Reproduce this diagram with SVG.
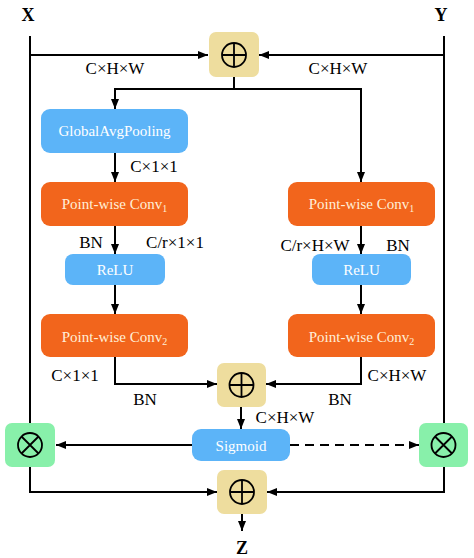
<svg xmlns="http://www.w3.org/2000/svg" width="474" height="558" viewBox="0 0 474 558">
<defs>
<marker id="ah" markerWidth="10" markerHeight="8" refX="10" refY="4" orient="auto" markerUnits="userSpaceOnUse">
<path d="M0,0 L10,4 L0,8 Z" fill="#000"/>
</marker>
<style>
.ln{fill:none;stroke:#000;stroke-width:2}
.add{fill:#EEDD9E}
.mul{fill:#88F0AA}
.blue{fill:#5CB4F8}
.org{fill:#F2651C}
.sym{fill:none;stroke:#000;stroke-width:1.8}
.nt{font-family:"Liberation Serif","Times New Roman",serif;font-size:15px;fill:#fff;text-anchor:middle}
.ot{font-family:"Liberation Serif","Times New Roman",serif;font-size:15px;fill:#FFEFD8;text-anchor:middle}
.lb{font-family:"Liberation Serif","Times New Roman",serif;font-size:17px;fill:#000;text-anchor:middle}
.io{font-family:"Liberation Serif","Times New Roman",serif;font-size:18px;font-weight:bold;fill:#000;text-anchor:middle}
</style>
</defs>
<rect width="474" height="558" fill="#fff"/>
<g id="connectors">
<path class="ln" d="M30,36 V423"/>
<path class="ln" d="M444,36 V423"/>
<path class="ln" d="M30,55 H208" marker-end="url(#ah)"/>
<path class="ln" d="M444,55 H259" marker-end="url(#ah)"/>
<path class="ln" d="M234,77 V89 H115 V109" marker-end="url(#ah)"/>
<path class="ln" d="M234,89 H361 V182" marker-end="url(#ah)"/>
<path class="ln" d="M115,153 V182" marker-end="url(#ah)"/>
<path class="ln" d="M115,226 V254" marker-end="url(#ah)"/>
<path class="ln" d="M361,226 V254" marker-end="url(#ah)"/>
<path class="ln" d="M115,285 V314" marker-end="url(#ah)"/>
<path class="ln" d="M361,285 V314" marker-end="url(#ah)"/>
<path class="ln" d="M115,357 V384 H217" marker-end="url(#ah)"/>
<path class="ln" d="M361,357 V384 H266" marker-end="url(#ah)"/>
<path class="ln" d="M241,407 V429" marker-end="url(#ah)"/>
<path class="ln" d="M192,445 H56" marker-end="url(#ah)"/>
<path class="ln" d="M290,445 H419" stroke-dasharray="9,6" marker-end="url(#ah)"/>
<path class="ln" d="M30,467 V492 H217" marker-end="url(#ah)"/>
<path class="ln" d="M444,467 V492 H267" marker-end="url(#ah)"/>
<path class="ln" d="M242,514 V531" marker-end="url(#ah)"/>
</g>
<g id="labels">
<text class="io" x="28" y="21">X</text>
<text class="io" x="441" y="21">Y</text>
<text class="lb" x="115" y="74">C×H×W</text>
<text class="lb" x="338" y="74">C×H×W</text>
<text class="lb" x="154" y="172">C×1×1</text>
<text class="lb" x="91" y="248">BN</text>
<text class="lb" x="175" y="248">C/r×1×1</text>
<text class="lb" x="315" y="251">C/r×H×W</text>
<text class="lb" x="398" y="251">BN</text>
<text class="lb" x="75" y="381">C×1×1</text>
<text class="lb" x="397" y="381">C×H×W</text>
<text class="lb" x="145" y="405">BN</text>
<text class="lb" x="340" y="405">BN</text>
<text class="lb" x="285" y="423">C×H×W</text>
<text class="io" x="242" y="554">Z</text>
</g>
<g id="add-top">
<rect class="add" x="209" y="32" width="50" height="45" rx="7"/>
<circle class="sym" cx="234" cy="55" r="12"/>
<path class="sym" d="M222,55 H246 M234,43 V67"/>
</g>
<g id="gap">
<rect class="blue" x="41" y="109" width="147" height="44" rx="9"/>
<text class="nt" x="114.5" y="136">GlobalAvgPooling</text>
</g>
<g id="conv1-left">
<rect class="org" x="41" y="182" width="147" height="44" rx="9"/>
<text class="ot" x="114.5" y="209">Point-wise Conv<tspan font-size="10" dy="3">1</tspan></text>
</g>
<g id="conv1-right">
<rect class="org" x="288" y="182" width="147" height="44" rx="9"/>
<text class="ot" x="361.5" y="209">Point-wise Conv<tspan font-size="10" dy="3">1</tspan></text>
</g>
<g id="relu-left">
<rect class="blue" x="65" y="254" width="100" height="31" rx="8"/>
<text class="nt" x="115" y="275">ReLU</text>
</g>
<g id="relu-right">
<rect class="blue" x="312" y="254" width="99" height="31" rx="8"/>
<text class="nt" x="361.5" y="275">ReLU</text>
</g>
<g id="conv2-left">
<rect class="org" x="41" y="314" width="147" height="43" rx="9"/>
<text class="ot" x="114.5" y="342">Point-wise Conv<tspan font-size="10" dy="3">2</tspan></text>
</g>
<g id="conv2-right">
<rect class="org" x="288" y="314" width="147" height="43" rx="9"/>
<text class="ot" x="361.5" y="342">Point-wise Conv<tspan font-size="10" dy="3">2</tspan></text>
</g>
<g id="add-mid">
<rect class="add" x="217" y="363" width="49" height="44" rx="7"/>
<circle class="sym" cx="241.5" cy="385" r="12"/>
<path class="sym" d="M229.5,385 H253.5 M241.5,373 V397"/>
</g>
<g id="sigmoid">
<rect class="blue" x="192" y="429" width="98" height="32" rx="9"/>
<text class="nt" x="241" y="451">Sigmoid</text>
</g>
<g id="mul-left">
<rect class="mul" x="5" y="423" width="50" height="44" rx="7"/>
<circle class="sym" cx="30" cy="445" r="12"/>
<path class="sym" d="M21.5,436.5 L38.5,453.5 M38.5,436.5 L21.5,453.5"/>
</g>
<g id="mul-right">
<rect class="mul" x="419" y="423" width="49" height="44" rx="7"/>
<circle class="sym" cx="443.5" cy="445" r="12"/>
<path class="sym" d="M435,436.5 L452,453.5 M452,436.5 L435,453.5"/>
</g>
<g id="add-bottom">
<rect class="add" x="217" y="470" width="50" height="44" rx="7"/>
<circle class="sym" cx="242" cy="492" r="12"/>
<path class="sym" d="M230,492 H254 M242,480 V504"/>
</g>
</svg>
